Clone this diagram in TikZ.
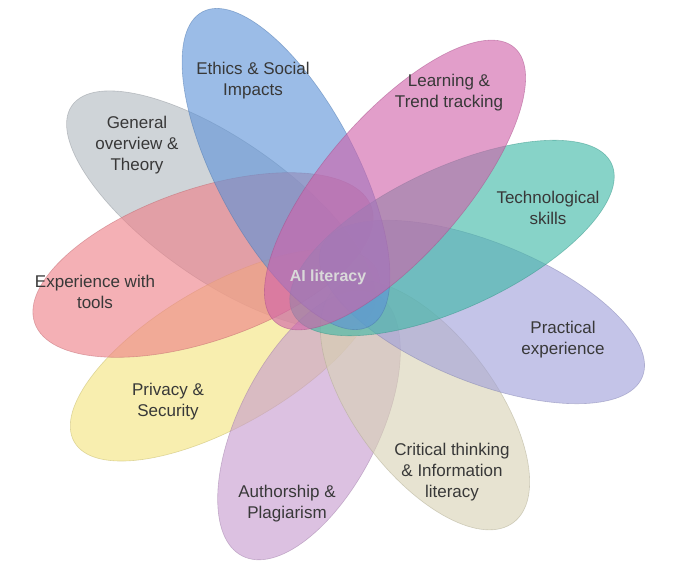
\documentclass[tikz,border=0pt]{standalone}
\usepackage{fontspec}
\setmainfont{Liberation Sans}
\begin{document}
\begin{tikzpicture}[x=1pt,y=-1pt,
  petal/.style={fill=#1,fill opacity=0.62,draw=#1!80!black,draw opacity=0.5,line width=0.6pt},
  lbl/.style={text=black!78,align=center,font=\fontsize{17}{21}\selectfont}]
\useasboundingbox (0,0) rectangle (685,561);
\definecolor{cgrey}{HTML}{B2B9C0}
\definecolor{cred}{HTML}{EE8088}
\definecolor{cyel}{HTML}{F3E47E}
\definecolor{cblue}{HTML}{5E93D8}
\definecolor{cmag}{HTML}{D062AA}
\definecolor{cteal}{HTML}{3EB8A6}
\definecolor{clav}{HTML}{A0A0DA}
\definecolor{cbeige}{HTML}{D8D2B4}
\definecolor{cpur}{HTML}{C69BCF}
\coordinate (g) at (221,210);
\coordinate (r) at (203,265);
\coordinate (y) at (225,355);
\coordinate (p) at (309,425);
\coordinate (be) at (425,405);
\coordinate (la) at (482,312);
\coordinate (t) at (452,238);
\coordinate (m) at (395,185);
\coordinate (b) at (286,169);
\path[petal=cgrey,rotate around={-35:(g)}] (g) ellipse (182 and 70);
\path[petal=cyel,rotate around={30:(y)}] (y) ellipse (174 and 70);
\path[petal=cred,rotate around={19:(r)}] (r) ellipse (178 and 76);
\path[petal=cpur,rotate around={63:(p)}] (p) ellipse (147 and 70);
\path[petal=cbeige,rotate around={-53:(be)}] (be) ellipse (147 and 70);
\path[petal=clav,rotate around={-22:(la)}] (la) ellipse (173 and 70);
\path[petal=cteal,rotate around={25:(t)}] (t) ellipse (176 and 70);
\path[petal=cblue,rotate around={-62:(b)}] (b) ellipse (178 and 70);
\path[petal=cmag,rotate around={49:(m)}] (m) ellipse (182 and 70);
\node[lbl] (n1) at (253,81) {Ethics \& Social\\Impacts};
\node[lbl] (n2) at (449,93) {Learning \&\\Trend tracking};
\node[lbl] (n3) at (137,145) {General\\overview \&\\Theory};
\node[lbl] (n4) at (548,208) {Technological\\skills};
\node[lbl] (n5) at (95,292) {Experience with\\tools};
\node[lbl] (n6) at (563,340) {Practical\\experience};
\node[lbl] (n7) at (168,402) {Privacy \&\\Security};
\node[lbl] (n8) at (452,472) {Critical thinking\\\& Information\\literacy};
\node[lbl] (n9) at (287,504) {Authorship \&\\Plagiarism};
\node[text=white!85!black,font=\fontsize{16}{18}\selectfont\bfseries] (c) at (328,277) {AI literacy};
\end{tikzpicture}
\end{document}
